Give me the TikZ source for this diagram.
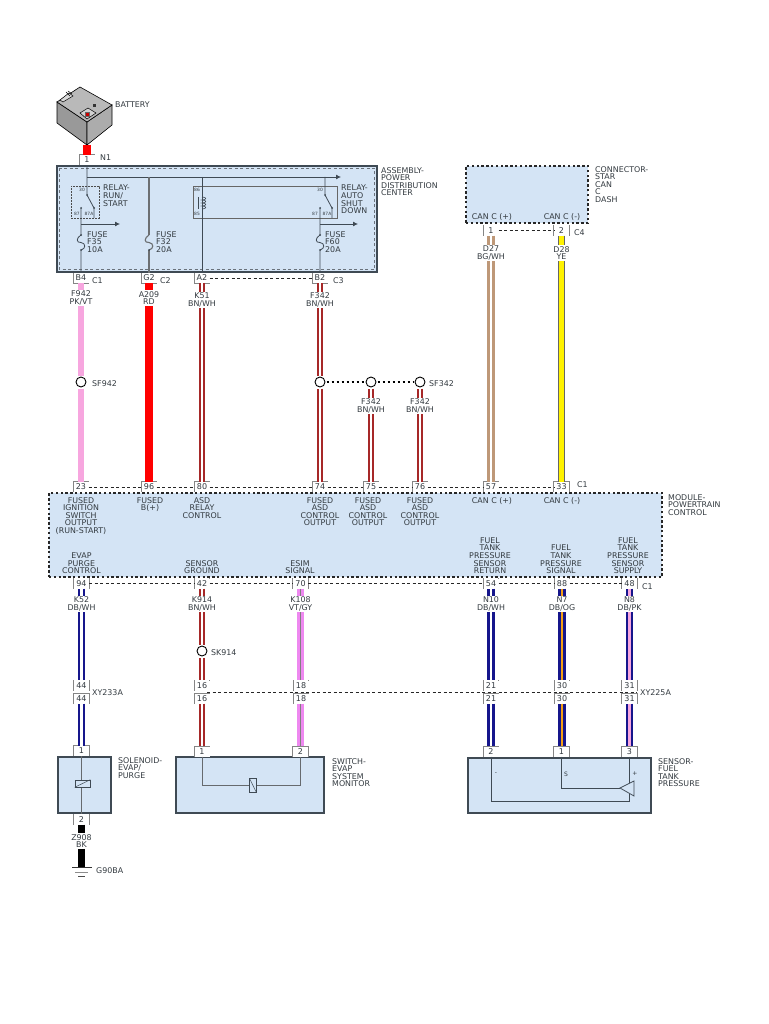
\documentclass[tikz,border=0pt]{standalone}
\usepackage{fontspec}
\setmainfont{DejaVu Sans}
\usetikzlibrary{arrows.meta}
\definecolor{boxblue}{HTML}{D4E4F5}
\definecolor{ink}{HTML}{333A40}
\definecolor{linegray}{HTML}{3F4A54}
\definecolor{pingray}{HTML}{858585}
\definecolor{bnred}{HTML}{A62828}
\definecolor{dbblue}{HTML}{16168C}
\definecolor{pkwire}{HTML}{F7A6DF}
\definecolor{vtwire}{HTML}{EE88F0}
\definecolor{bgwire}{HTML}{BE9878}
\definecolor{ogwire}{HTML}{F5A014}
\tikzset{
  txt/.style={font=\fontsize{7.9}{7.6}\selectfont,text=ink,inner sep=0pt,align=left,anchor=north west},
  ctxt/.style={font=\fontsize{7.9}{7.6}\selectfont,text=ink,inner sep=0pt,align=center,anchor=north},
  btxt/.style={ctxt,anchor=south},
  wlab/.style={font=\fontsize{7.9}{7.6}\selectfont,text=ink,inner sep=1pt,align=center},
  tiny/.style={font=\fontsize{4.4}{4.5}\selectfont,text=ink,inner sep=0pt},
  small/.style={font=\fontsize{6}{6.5}\selectfont,text=ink,inner sep=0pt},
  pin/.style={font=\fontsize{8}{8}\selectfont,text=ink,inner sep=0pt,minimum width=15,minimum height=10,fill=white},
  pinup/.style={pin,append after command={\pgfextra{\draw[pingray,line width=.7] (\tikzlastnode.south west)|-(\tikzlastnode.north east)--(\tikzlastnode.south east);}}},
  pindn/.style={pin,append after command={\pgfextra{\draw[pingray,line width=.7] (\tikzlastnode.north west)|-(\tikzlastnode.south east)--(\tikzlastnode.north east);}}},
  solidbox/.style={draw=linegray,line width=1.2,fill=boxblue,inner sep=0pt},
  dashbox/.style={draw=black!85,line width=1.2,dash pattern=on 2.4pt off 2.4pt,fill=boxblue,inner sep=0pt},
  rowdash/.style={draw=black!85,line width=1,dash pattern=on 3pt off 2.5pt},
  splice/.style={circle,draw=black,line width=.9,fill=white,minimum size=10,inner sep=0pt,outer sep=1.5pt},
  spdots/.style={black,line width=2.4,dash pattern=on 2.4pt off 2.6pt},
  inwire/.style={draw=linegray,line width=.8},
  tip/.style={-{Latex[length=5,width=5]}},
  wbn/.style={draw=bnred,double=white,line width=2.2,double distance=2.2},
  wdb/.style={draw=dbblue,double=white,line width=2.4,double distance=2.4},
  wog/.style={draw=dbblue,double=ogwire,line width=2.4,double distance=2.4},
  wpk/.style={draw=dbblue,double=pkwire,line width=2.4,double distance=2.4},
  wbg/.style={draw=bgwire,double=white,line width=2.4,double distance=2.6},
  wye/.style={draw=black!60,double=yellow,line width=.8,double distance=5.8},
  wrd/.style={draw=red,line width=7.2},
  wpv/.style={draw=pkwire,line width=6.5},
  wvt/.style={draw=vtwire,double=gray,line width=3,double distance=1.8},
  wbk/.style={draw=black,line width=6.5},
}
\begin{document}
\begin{tikzpicture}[x=1pt,y=-1pt]
\useasboundingbox (0,0) rectangle (768,1024);

% battery
\draw[line width=.6,fill=gray!80] (57,102)--(87,122)--(87,145)--(57,123)--cycle;
\draw[line width=.6,fill=gray!65] (87,122)--(112,105)--(112,125)--(87,145)--cycle;
\draw[line width=.6,fill=gray!55] (57,102)--(80,87)--(112,105)--(87,122)--cycle;
\draw[line width=.5,fill=gray!35] (80,113)--(88,108)--(96,113)--(87,119)--cycle;
\draw[fill=red!80!black,draw=black!60,line width=.3] (85,112) rectangle (89.5,116);
\draw[fill=black!80,draw=none] (93,104) rectangle (96,107);
\draw[fill=gray!30,line width=.5] (60,100)--(69,93)--(73,96)--(63,102)--cycle;
\draw[line width=.5] (66,92)--(70,96) (68,91)--(72,94);
\node[txt] (battlab) at (115,102) {BATTERY};
\coordinate (battend) at (87,145);

% assembly box
\node[solidbox,minimum width=320,minimum height=106] (pdc) at (217,219) {};
\draw[rowdash,draw=black!50!boxblue,line width=.7] ([xshift=3,yshift=-3]pdc.north west) rectangle ([xshift=-3,yshift=3]pdc.south east);
\node[txt] (pdclab) at (381,167) {ASSEMBLY-\\POWER\\DISTRIBUTION\\CENTER};
\node[pinup] (n1) at (87,160) {1};
\draw[wrd] (battend) -- (n1.north);
\node[txt] (n1lab) at (100,155) {N1};

% relay boxes
\node[draw=gray!80!black,line width=.6,minimum width=144,minimum height=32,inner sep=0pt] (asdbox) at (265,202) {};
\node[draw=black!70,line width=.6,dash pattern=on 1.6pt off 1.4pt,minimum width=28,minimum height=32,inner sep=0pt] (rsbox) at (85,202) {};
\node[txt] (rslab) at (103,185) {RELAY-\\RUN/\\START};
\node[txt] (asdlab) at (341,185) {RELAY-\\AUTO\\SHUT\\DOWN};
\node[tiny] (rs30) at (82,190) {30};
\node[tiny] (rs87) at (77,214) {87};
\node[tiny] (rs87a) at (89,214) {87A};
\node[tiny] (asd86) at (197,190) {86};
\node[tiny] (asd85) at (197,214) {85};
\node[tiny] (asd30) at (320,190) {30};
\node[tiny] (asd87) at (315,214) {87};
\node[tiny] (asd87a) at (327,214) {87A};

% pins of the assembly
\node[pindn] (b4) at (81,278) {B4};
\node[pindn] (g2) at (149,278) {G2};
\node[pindn] (a2) at (202,278) {A2};
\node[pindn] (b2) at (320,278) {B2};
\draw[rowdash] (a2) -- (b2);
\node[txt] (c1a) at (92,277) {C1};
\node[txt] (c2a) at (160,277) {C2};
\node[txt] (c3a) at (333,277) {C3};

% inside the assembly
\coordinate (busin) at (87,177);
\coordinate (busend) at (341,177);
\draw[inwire,tip] (busin) -- (busend);
\draw[inwire] (n1.south) -- (busin) -- (87,195) -- (94,208) -- (94,218);
\draw[inwire] (81,208) -- (81,235) .. controls (76,238) and (76,243) .. (81,242.5) .. controls (86,243) and (86,249) .. (81,250) -- (b4.north);
\draw[inwire,tip] (81,224) -- (120,224);
\draw[draw=gray!70!linegray,line width=1.2] (149,177) -- (149,235);
\draw[inwire,draw=gray!70!linegray,line width=1.1] (149,235) .. controls (144,238) and (144,243) .. (149,242.5) .. controls (154,243) and (154,249) .. (149,250);
\draw[draw=gray!70!linegray,line width=1.2] (149,250) -- (g2.north);
\draw[inwire] (202,177) -- (a2.north);
\draw[inwire,line width=.6] (202,197) .. controls (207,197) and (207,200) .. (202,200) .. controls (207,200) and (207,203) .. (202,203) .. controls (207,203) and (207,206) .. (202,206) .. controls (207,206) and (207,209) .. (202,209);
\draw[inwire,line width=.5] (198,197) -- (198,209);
\draw[inwire] (325,177) -- (325,195) -- (332,208) -- (332,218);
\draw[inwire] (320,208) -- (320,235) .. controls (315,238) and (315,243) .. (320,242.5) .. controls (325,243) and (325,249) .. (320,250) -- (b2.north);
\draw[inwire,tip] (320,224) -- (358,224);
\fill[linegray] (87,195) circle[radius=1] (94,208) circle[radius=1] (81,208) circle[radius=1] (81,235) circle[radius=1] (81,250) circle[radius=1] (149,250) circle[radius=1];
\fill[linegray] (325,195) circle[radius=1] (332,208) circle[radius=1] (320,208) circle[radius=1] (320,235) circle[radius=1] (320,250) circle[radius=1];
\node[txt] (f35) at (87,231) {FUSE\\F35\\10A};
\node[txt] (f32) at (156,231) {FUSE\\F32\\20A};
\node[txt] (f60) at (325,231) {FUSE\\F60\\20A};

% connector star
\node[dashbox,minimum width=122,minimum height=57] (star) at (527,194.5) {};
\node[txt] (starlab) at (595,166) {CONNECTOR-\\STAR\\CAN\\C\\DASH};
\node[ctxt] (canp) at (492,213) {CAN C (+)};
\node[ctxt] (canm) at (562,213) {CAN C (-)};
\node[pindn] (p1) at (491,230.5) {1};
\node[pindn] (p2) at (561.5,230.5) {2};
\draw[rowdash] (p1) -- (p2);
\node[txt] (c4) at (574,229) {C4};

% module
\node[dashbox,minimum width=613,minimum height=84] (pcm) at (355.5,535) {};
\node[txt] (pcmlab) at (668,494) {MODULE-\\POWERTRAIN\\CONTROL};
\node[pinup] (c23) at (81,487) {23};
\node[pinup] (c96) at (149,487) {96};
\node[pinup] (c80) at (202,487) {80};
\node[pinup] (c74) at (320,487) {74};
\node[pinup] (c75) at (371,487) {75};
\node[pinup] (c76) at (420,487) {76};
\node[pinup] (c57) at (491,487) {57};
\node[pinup] (c33) at (561.5,487) {33};
\draw[rowdash] (c23)--(c96) (c96)--(c80) (c80)--(c74) (c74)--(c75) (c75)--(c76) (c76)--(c57) (c57)--(c33);
\node[txt] (c1b) at (577,481) {C1};
\node[ctxt] (t23) at (81,497) {FUSED\\IGNITION\\SWITCH\\OUTPUT\\(RUN-START)};
\node[ctxt] (t96) at (150,497) {FUSED\\B(+)};
\node[ctxt] (t80) at (202,497) {ASD\\RELAY\\CONTROL};
\node[ctxt] (t74) at (320,497) {FUSED\\ASD\\CONTROL\\OUTPUT};
\node[ctxt] (t75) at (368,497) {FUSED\\ASD\\CONTROL\\OUTPUT};
\node[ctxt] (t76) at (420,497) {FUSED\\ASD\\CONTROL\\OUTPUT};
\node[ctxt] (t57) at (492,497) {CAN C (+)};
\node[ctxt] (t33) at (562,497) {CAN C (-)};
\node[btxt] (t94) at (81.5,574) {EVAP\\PURGE\\CONTROL};
\node[btxt] (t42) at (202,574) {SENSOR\\GROUND};
\node[btxt] (t70) at (300,574) {ESIM\\SIGNAL};
\node[btxt] (t54) at (490,574) {FUEL\\TANK\\PRESSURE\\SENSOR\\RETURN};
\node[btxt] (t88) at (561,574) {FUEL\\TANK\\PRESSURE\\SIGNAL};
\node[btxt] (t48) at (628,574) {FUEL\\TANK\\PRESSURE\\SENSOR\\SUPPLY};
\node[pindn] (c94) at (81.5,583.5) {94};
\node[pindn] (c42) at (202,583.5) {42};
\node[pindn] (c70) at (300.5,583.5) {70};
\node[pindn] (c54) at (491,583.5) {54};
\node[pindn] (c88) at (562,583.5) {88};
\node[pindn] (c48) at (629.5,583.5) {48};
\draw[rowdash] (c94)--(c42) (c42)--(c70) (c70)--(c54) (c54)--(c88) (c88)--(c48);
\node[txt] (c1c) at (642,583) {C1};

% upper wires
\node[wlab] (f942) at (81,298) {F942\\PK/VT};
\node[splice] (sf942) at (81,382) {};
\node[txt] (sf942lab) at (92,380) {SF942};
\draw[wpv] (b4) -- (f942);
\draw[wpv] (f942) -- (sf942);
\draw[wpv] (sf942) -- (c23);
\node[wlab] (a209) at (149,298) {A209\\RD};
\draw[wrd] (g2) -- (a209);
\draw[wrd] (a209) -- (c96);
\node[wlab] (k51) at (202,300) {K51\\BN/WH};
\draw[wbn] (a2) -- (k51);
\draw[wbn] (k51) -- (c80);
\node[wlab] (f342) at (320,300) {F342\\BN/WH};
\node[splice] (s74) at (320,382) {};
\node[splice] (s75) at (371,382) {};
\node[splice] (s76) at (420,382) {};
\node[txt] (sf342lab) at (429,380) {SF342};
\draw[spdots] (s74) -- (s75);
\draw[spdots] (s75) -- (s76);
\draw[wbn] (b2) -- (f342);
\draw[wbn] (f342) -- (s74);
\draw[wbn] (s74) -- (c74);
\node[wlab] (f342b) at (371,406) {F342\\BN/WH};
\draw[wbn] (s75) -- (f342b);
\draw[wbn] (f342b) -- (c75);
\node[wlab] (f342c) at (420,406) {F342\\BN/WH};
\draw[wbn] (s76) -- (f342c);
\draw[wbn] (f342c) -- (c76);
\node[wlab] (d27) at (491,253) {D27\\BG/WH};
\draw[wbg] (p1) -- (d27);
\draw[wbg] (d27) -- (c57);
\node[wlab] (d28) at (561.5,253) {D28\\YE};
\draw[wye] (p2) -- (d28);
\draw[wye] (d28) -- (c33);

% crossing connector
\node[pindn] (x44a) at (81.5,685.5) {44};
\node[pinup] (x44b) at (81.5,698.5) {44};
\node[txt] (xy233) at (92,689) {XY233A};
\node[pindn] (x16a) at (202,685.5) {16};
\node[pinup] (x16b) at (202,698.5) {16};
\node[pindn] (x18a) at (301,685.5) {18};
\node[pinup] (x18b) at (301,698.5) {18};
\node[pindn] (x21a) at (491,685.5) {21};
\node[pinup] (x21b) at (491,698.5) {21};
\node[pindn] (x30a) at (562,685.5) {30};
\node[pinup] (x30b) at (562,698.5) {30};
\node[pindn] (x31a) at (629.5,685.5) {31};
\node[pinup] (x31b) at (629.5,698.5) {31};
\node[txt] (xy225) at (640,689) {XY225A};
\coordinate (xyl) at (207,692);
\coordinate (xyr) at (637,692);
\draw[rowdash,line width=.8] (xyl) -- (xyr);

% solenoid
\node[solidbox,minimum width=53,minimum height=56] (sol) at (84.5,785) {};
\node[txt] (sollab) at (118,757) {SOLENOID-\\EVAP/\\PURGE};
\node[pinup] (s1) at (81.5,751) {1};
\node[pindn] (s2) at (81.5,819.5) {2};
\draw[inwire,draw=gray!60!linegray] (s1.south) -- (s2.north);
\node[draw=linegray,line width=.6,fill=boxblue,minimum width=15,minimum height=7,inner sep=0pt] (solcoil) at (82.5,783.5) {};
\draw[linegray,line width=.5] (solcoil.south west) -- (solcoil.north east);
\node[wlab] (z908) at (81.5,841) {Z908\\BK};
\coordinate (gnd) at (81.5,867);
\draw[wbk] (s2) -- (z908);
\draw[wbk] (z908) -- (gnd);
\draw[black!80,line width=.9] (72,867.5) -- (92,867.5);
\draw[black!45,line width=.8] (75,872) -- (88,872);
\draw[black!70,line width=.8] (78,876) -- (85,876);
\node[txt] (g90) at (96,867) {G90BA};

% switch
\node[solidbox,minimum width=148,minimum height=56] (sw) at (250,785) {};
\node[txt] (swlab) at (332,758) {SWITCH-\\EVAP\\SYSTEM\\MONITOR};
\node[pinup] (sw1) at (202,751.5) {1};
\node[pinup] (sw2) at (300.5,751.5) {2};
\draw[inwire,draw=gray!60!linegray] (sw1.south) -- (202,785) -- (300.5,785) -- (sw2.south);
\node[draw=linegray,line width=.6,fill=boxblue,minimum width=6.5,minimum height=14,inner sep=0pt] (swcoil) at (253,785.5) {};
\draw[linegray,line width=.5] (swcoil.north west) -- (swcoil.south east);

% sensor
\node[solidbox,minimum width=183,minimum height=55] (sen) at (559.5,785.5) {};
\node[txt] (senlab) at (658,758) {SENSOR-\\FUEL\\TANK\\PRESSURE};
\node[pinup] (se2) at (491,751.5) {2};
\node[pinup] (se1) at (561.5,751.5) {1};
\node[pinup] (se3) at (629.5,751.5) {3};
\draw[inwire] (se2.south) -- (491,801) -- (629.5,801) -- (629.5,794);
\draw[inwire] (se1.south) -- (561.5,788) -- (620,788);
\draw[inwire] (se3.south) -- (629.5,783);
\draw[linegray,line width=.8,fill=boxblue] (620,788) -- (634,781) -- (634,796) -- cycle;
\node[small] (sem) at (496,774) {-};
\node[small] (ses) at (566,774) {S};
\node[small] (sep) at (635,774) {+};

% lower wires
\node[wlab] (k52) at (81.5,604) {K52\\DB/WH};
\draw[wdb] (c94) -- (k52);
\draw[wdb] (k52) -- (x44a);
\draw[wdb] (x44b) -- (s1);
\node[wlab] (k914) at (202,604) {K914\\BN/WH};
\node[splice] (sk914) at (202,651) {};
\node[txt] (sk914lab) at (211,649) {SK914};
\draw[wbn] (c42) -- (k914);
\draw[wbn] (k914) -- (sk914);
\draw[wbn] (sk914) -- (x16a);
\draw[wbn] (x16b) -- (sw1);
\node[wlab] (k108) at (300.5,604) {K108\\VT/GY};
\draw[wvt] (c70) -- (k108);
\draw[wvt] (k108) -- (x18a.north -| k108);
\draw[wvt] (x18b.south -| k108) -- (sw2);
\node[wlab] (n10) at (491,604) {N10\\DB/WH};
\draw[wdb] (c54) -- (n10);
\draw[wdb] (n10) -- (x21a);
\draw[wdb] (x21b) -- (se2);
\node[wlab] (n7) at (562,604) {N7\\DB/OG};
\draw[wog] (c88) -- (n7);
\draw[wog] (n7) -- (x30a);
\draw[wog] (x30b.south -| n7) -- (se1.north -| n7);
\node[wlab] (n8) at (629.5,604) {N8\\DB/PK};
\draw[wpk] (c48) -- (n8);
\draw[wpk] (n8) -- (x31a);
\draw[wpk] (x31b) -- (se3);
\end{tikzpicture}
\end{document}
